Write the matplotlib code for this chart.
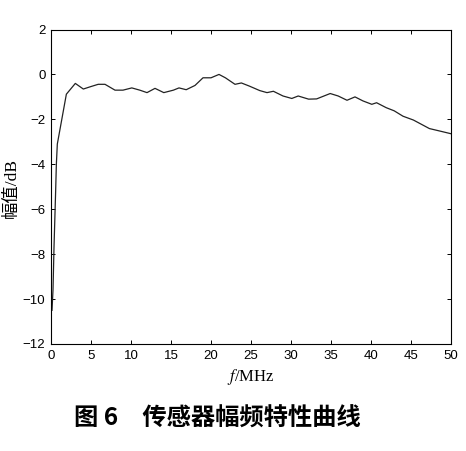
import matplotlib
matplotlib.use("Agg")
import matplotlib.pyplot as plt

# data (frequency in MHz, amplitude in dB)
freq = [0.125, 0.25, 0.375, 0.58, 0.67, 0.79, 1.92, 3.04, 4.04, 4.9,
        5.9, 6.75, 8.0, 9.0, 10.1, 11.1, 12.0, 13.0, 14.1, 15.3,
        16.0, 16.9, 18.0, 19.0, 20.0, 21.0, 21.8, 23.0, 23.8, 24.8,
        26.1, 27.0, 27.8, 29.0, 30.1, 30.9, 32.2, 33.2, 34.9, 35.9,
        37.0, 38.0, 39.0, 40.1, 40.7, 41.9, 42.9, 44.0, 45.3, 46.3,
        47.3, 48.6, 50.0]
amp = [-10.5, -9.6, -7.7, -5.2, -4.0, -3.1, -0.88, -0.40, -0.65, -0.55,
       -0.44, -0.44, -0.70, -0.70, -0.60, -0.70, -0.81, -0.62, -0.81, -0.70,
       -0.60, -0.68, -0.49, -0.15, -0.15, 0.0, -0.15, -0.44, -0.38, -0.52,
       -0.72, -0.81, -0.75, -0.96, -1.07, -0.96, -1.10, -1.09, -0.85, -0.96,
       -1.15, -1.00, -1.18, -1.33, -1.26, -1.48, -1.62, -1.86, -2.03, -2.22,
       -2.41, -2.52, -2.64]

xticks = [0, 5, 10, 15, 20, 25, 30, 35, 40, 45, 50]
yticks = [-12, -10, -8, -6, -4, -2, 0, 2]

plt.rcParams['mathtext.fontset'] = 'stix'

fig = plt.figure(figsize=(4.66, 4.51), dpi=100)
ax = fig.add_axes([51/466, 1 - 344/451, 400/466, 314.5/451])

ax.plot(freq, amp, color='#222222', linewidth=0.9)

ax.set_xlim(0, 50)
ax.set_ylim(-12, 2)
ax.set_xticks(xticks)
ax.set_yticks(yticks)
ax.tick_params(direction='in', length=3, width=0.7, top=True, right=True,
               labelsize=9.5, pad=4)
for lab in ax.get_xticklabels() + ax.get_yticklabels():
    lab.set_family('Liberation Sans')
for s in ax.spines.values():
    s.set_linewidth(0.8)

ax.set_xlabel(r'$f$/MHz', family='Liberation Serif', fontsize=12, va='center')
ax.xaxis.set_label_coords(0.5, -(377 - 344) / 314.5)
ax.set_ylabel('幅值/dB', family=['Liberation Serif', 'Noto Sans CJK SC'],
              fontsize=12.5, va='center')
ax.yaxis.set_label_coords(-(51 - 12) / 400, (344 - 188) / 314.5)

fig.text(217/466, 1 - 419/451, '图 6　传感器幅频特性曲线',
         family=['Noto Sans CJK SC', 'DejaVu Sans'], fontweight='bold',
         fontsize=17.5, ha='center', va='center')

fig.savefig('out.png', dpi=100)
